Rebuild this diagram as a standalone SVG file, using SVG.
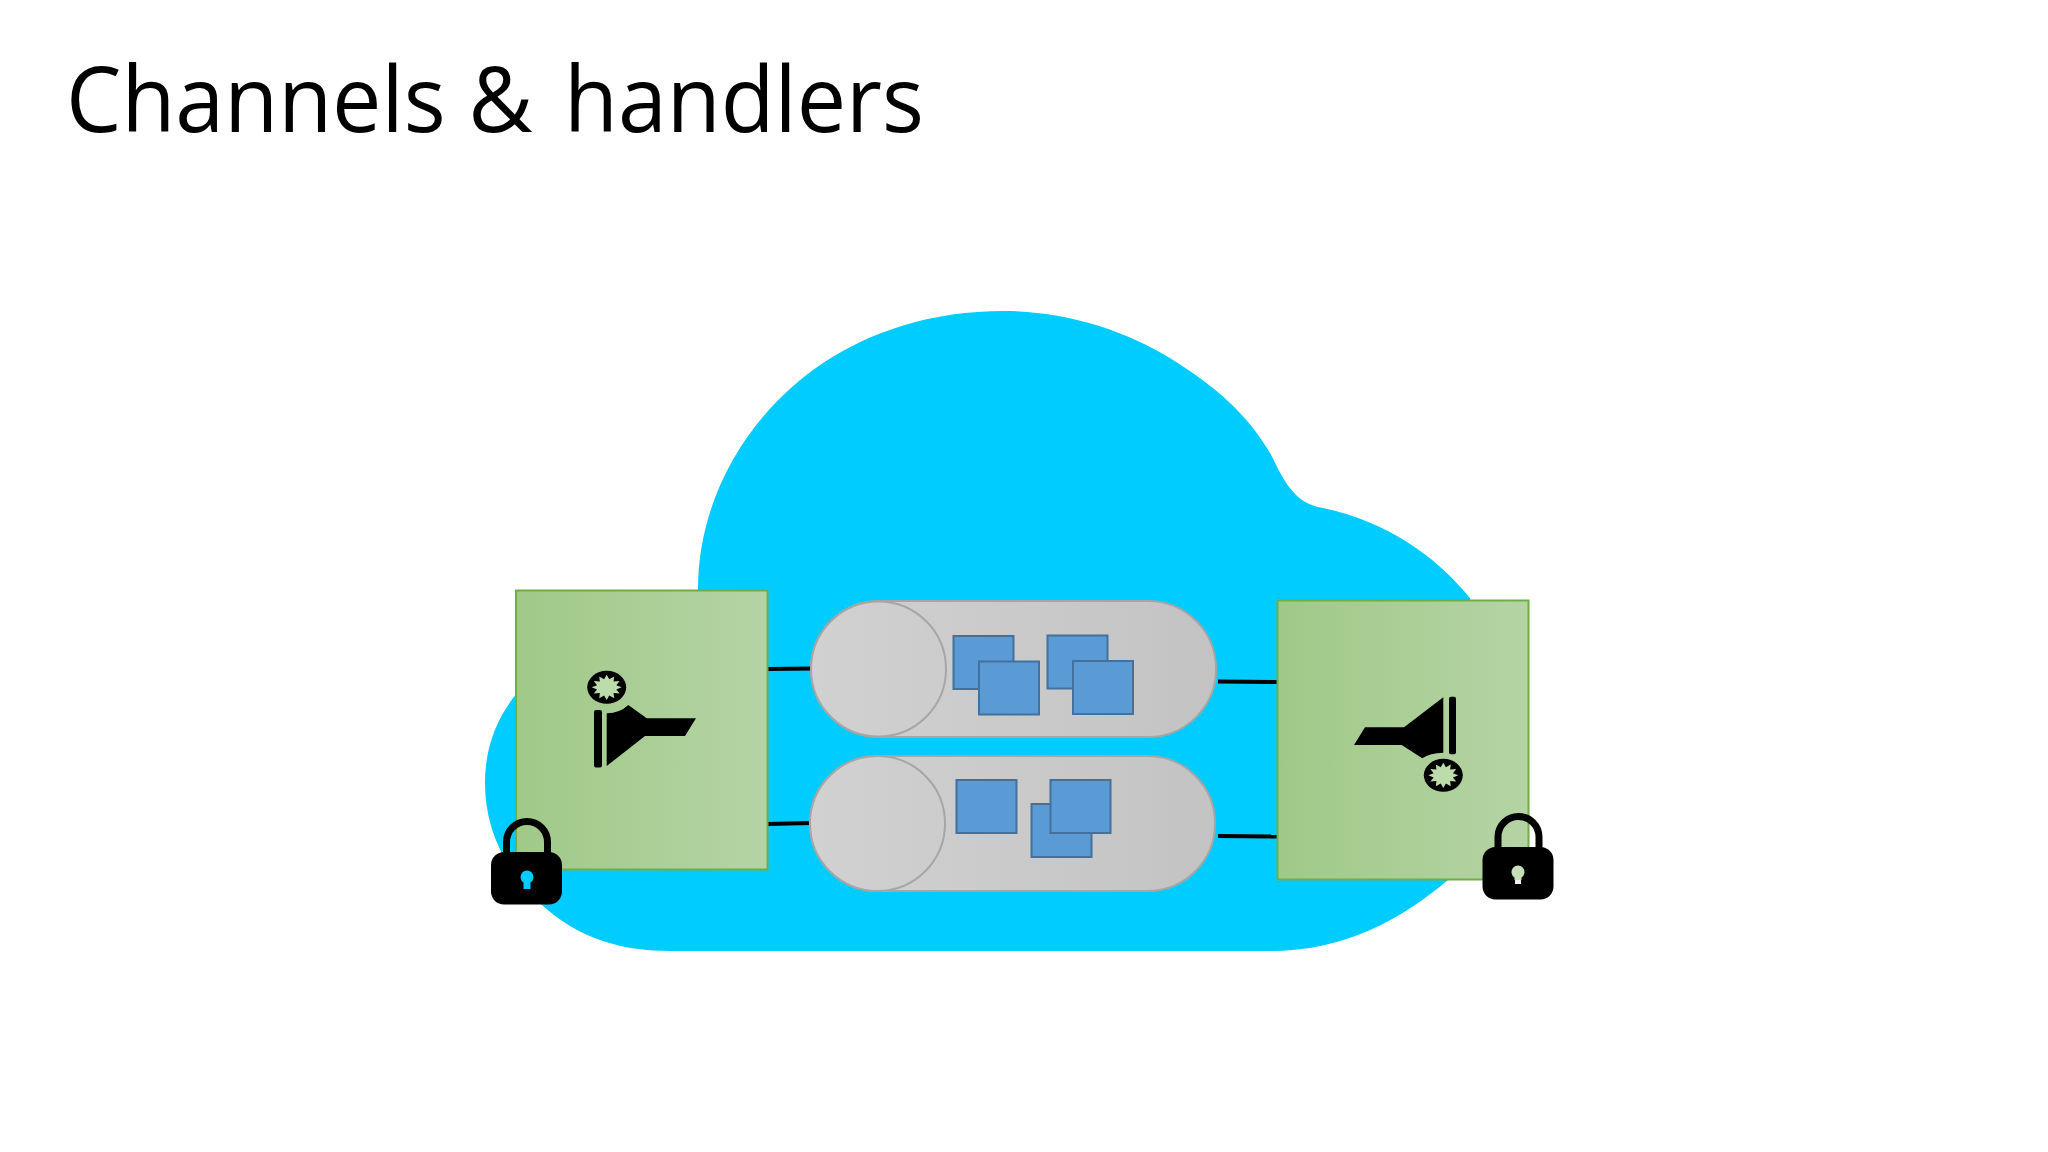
<svg xmlns="http://www.w3.org/2000/svg" width="2048" height="1152" viewBox="0 0 2048 1152">
<defs>
<linearGradient id="g" x1="0" x2="1" y1="0" y2="0"><stop offset="0" stop-color="#a0c988"/><stop offset="1" stop-color="#b5d4a5"/></linearGradient>
<linearGradient id="p" gradientUnits="userSpaceOnUse" x1="811" x2="1216" y1="0" y2="0"><stop offset="0" stop-color="#d1d1d2"/><stop offset="1" stop-color="#c4c3c3"/></linearGradient>
<g id="lock"><path d="M-20.500 8V-10a20.500 20.500 0 0 1 41 0V8" fill="none" stroke="#000" stroke-width="7"/><rect x="-36" y="0" width="71" height="52.500" rx="13" fill="#000"/></g>
<g id="burst"><ellipse rx="19.500" ry="16.500" fill="#000"/><polygon transform="scale(1.070,.900)" fill="#bcdcab" points="0,-14 2.400,-9 7,-12.120 6.400,-6.400 12.120,-7 9,-2.400 14,0 9,2.400 12.120,7 6.400,6.400 7,12.120 2.400,9 0,14 -2.400,9 -7,12.120 -6.400,6.400 -12.120,7 -9,2.400 -14,0 -9,-2.400 -12.120,-7 -6.400,-6.400 -7,-12.120 -2.400,-9"/></g>
</defs>
<style>
.box{fill:url(#g);stroke:#70ad47;stroke-width:2}
.pill{fill:url(#p);stroke:#a6a6a6;stroke-width:2}
.end{fill:url(#p);stroke:#a6a6a6;stroke-width:2}
.msg{fill:#5b9bd5;stroke:#41719c;stroke-width:2}
.line{stroke:#000;stroke-width:4;fill:none}
text{font-family:"Open Sans","Noto Sans",sans-serif}
</style>
<rect width="2048" height="1152" fill="#fff"/>
<text x="66" y="132" font-size="92" fill="#000" textLength="858" lengthAdjust="spacingAndGlyphs">Channels &amp; <tspan dx="9">handlers</tspan></text>
<path id="cloud" fill="#00ccff" d="M698 590C698 500 745 420 813 370C868 330 935 311 1003 311C1065 311 1125 330 1173 360C1215 386 1248 415 1270 453C1281 473 1290 500 1318 507C1385 520 1435 555 1470 598L1490 750L1448 880C1400 920 1345 951 1270 951H670C625 951 580 940 542 905C505 870 485 830 485 783C485 750 495 722 513 698L520 690L698 590Z"/>
<g id="connectors">
<path class="line" d="M767 669L812 668.500"/><path class="line" d="M767 824L811 823"/>
<path class="line" d="M1218 681.500L1277 682"/><path class="line" d="M1218 836L1277 836.500"/>
</g>
<g id="sender">
<rect class="box" x="516" y="590.500" width="251.500" height="279"/>
<use href="#burst" x="606.700" y="687.300"/>
<rect x="594" y="710" width="8" height="57.500" rx="2" fill="#000"/>
<path fill="#000" d="M606.700 713.300Q620 713 628.300 705L646.700 718.300H696L685 736H645L606.700 766Z"/>
<use href="#lock" x="527" y="852"/>
<path fill="#00ccff" d="M523.500 882.500a6.500 6.500 0 1 1 7 0V889h-7z"/>
</g>
<g id="receiver">
<rect class="box" x="1277.500" y="600.500" width="251" height="279"/>
<use href="#burst" x="1443.300" y="775.300"/>
<rect x="1449" y="696.700" width="7" height="57.500" rx="2" fill="#000"/>
<path fill="#000" d="M1443.300 697.300V752.700Q1430 753 1422.300 758.300L1401.700 745H1354L1365 727.300H1404Z"/>
<use href="#lock" x="1518.500" y="847"/>
<path fill="#c6dfb6" d="M1514.500 877.500a6.500 6.500 0 1 1 7 0V880h-7z"/>
<rect x="1515" y="880" width="6" height="4" fill="#eef5e8"/>
</g>
<g id="channel1">
<rect class="pill" x="811" y="601" width="405" height="136" rx="68"/>
<circle class="end" cx="878.500" cy="669" r="67.500"/>
<rect class="msg" x="953.500" y="636" width="60" height="53"/>
<rect class="msg" x="979" y="661.500" width="60" height="53"/>
<rect class="msg" x="1047.500" y="635.500" width="60" height="53"/>
<rect class="msg" x="1073" y="661" width="60" height="53"/>
</g>
<g id="channel2">
<rect class="pill" x="810" y="756" width="405" height="135" rx="67.500"/>
<circle class="end" cx="877.500" cy="823.500" r="67.500"/>
<rect class="msg" x="956.500" y="780" width="60" height="53"/>
<rect class="msg" x="1031.500" y="804" width="60" height="53"/>
<rect class="msg" x="1050.500" y="780" width="60" height="53"/>
</g>
</svg>
